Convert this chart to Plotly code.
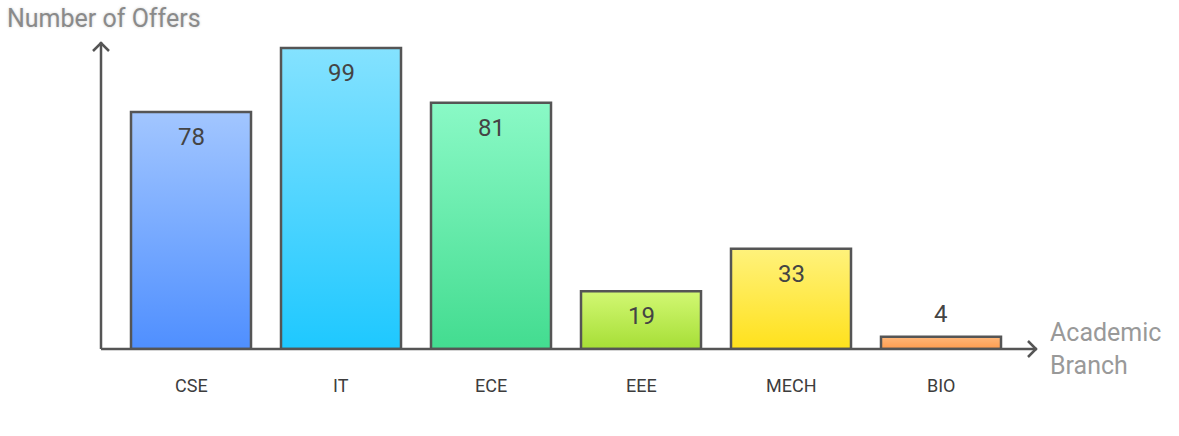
import plotly.graph_objects as go

categories = ["CSE", "IT", "ECE", "EEE", "MECH", "BIO"]
offers = [78, 99, 81, 19, 33, 4]
top_colors = ["#a2c6ff", "#84e2ff", "#8af9c6", "#d2f873", "#fff27c", "#ffb779"]
bottom_colors = ["#4f8fff", "#1ec8ff", "#43dc90", "#a6de36", "#ffe11c", "#ff9c4e"]

x_title = "Academic<br>Branch"
y_title = "Number of Offers"

fig = go.Figure()

bw = 0.8
for i, (cat, v) in enumerate(zip(categories, offers)):
    xs = [i - bw / 2, i - bw / 2, i + bw / 2, i + bw / 2, i - bw / 2]
    ys = [0, v, v, 0, 0]
    fig.add_trace(go.Scatter(
        x=xs, y=ys, mode="lines", fill="toself",
        line=dict(color="#555555", width=2.5),
        fillgradient=dict(type="vertical",
                          colorscale=[[0, bottom_colors[i]], [1, top_colors[i]]]),
        hoverinfo="skip", showlegend=False,
    ))
    inside = v >= 10
    fig.add_annotation(x=i, y=v, yref="y", xref="x", text=str(v),
                       showarrow=False,
                       yanchor="top" if inside else "bottom",
                       yshift=-9 if inside else 7,
                       font=dict(family="Roboto", size=24, color="#444444"))
    fig.add_annotation(x=i, y=0, yref="y", xref="x", text=cat,
                       showarrow=False, yanchor="middle", yshift=-36,
                       font=dict(family="Roboto", size=18, color="#3d3d3d"))

# axis lines with chevrons (paper coords)
axis_col = "#555555"
fig.add_shape(type="line", xref="paper", yref="paper", x0=0, y0=0, x1=0, y1=1,
              line=dict(color=axis_col, width=2.5))
fig.add_shape(type="line", xref="paper", yref="paper", x0=0, y0=0, x1=1, y1=0,
              line=dict(color=axis_col, width=2.5))

L, R, T, B = 101, 142, 42, 87
W, H = 1179, 436
pw, ph = W - L - R, H - T - B

def px(x):
    return (x - L) / pw

def py(y):
    return (H - B - y) / ph

fig.add_shape(type="path", xref="paper", yref="paper",
              path=f"M {px(93)} {py(51)} L {px(101)} {py(43)} L {px(109)} {py(51)}",
              line=dict(color=axis_col, width=2.5))
fig.add_shape(type="path", xref="paper", yref="paper",
              path=f"M {px(1028)} {py(341)} L {px(1036)} {py(349)} L {px(1028)} {py(357)}",
              line=dict(color=axis_col, width=2.5))

fig.add_annotation(xref="paper", yref="paper", x=px(5), y=py(19), text=y_title,
                   showarrow=False, xanchor="left", yanchor="middle",
                   font=dict(family="Roboto", size=25, color="#8a8a8a",
                             shadow="0px 0px 3px #d0d0d0"))
fig.add_annotation(xref="paper", yref="paper", x=px(1048), y=py(349), text=x_title,
                   showarrow=False, xanchor="left", yanchor="middle", align="left",
                   font=dict(family="Roboto", size=25, color="#999999"))

fig.update_layout(
    width=W, height=H,
    margin=dict(l=L, r=R, t=T, b=B),
    paper_bgcolor="white", plot_bgcolor="white",
    xaxis=dict(range=[-0.6, 5.64], showgrid=False, zeroline=False,
               showticklabels=False, showline=False, fixedrange=True),
    yaxis=dict(range=[0, 101], showgrid=False, zeroline=False,
               showticklabels=False, showline=False, fixedrange=True),
)

fig.write_html("out.html")
